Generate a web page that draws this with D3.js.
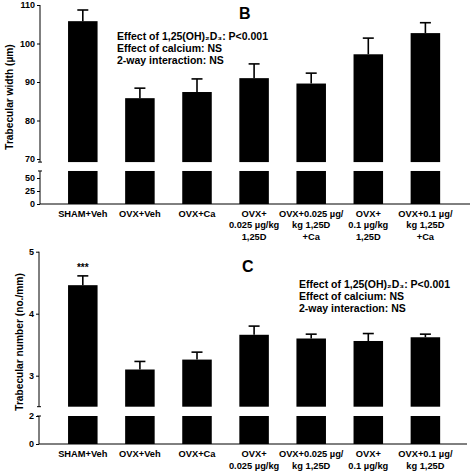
<!DOCTYPE html>
<html>
<head>
<meta charset="utf-8">
<script src="https://cdn.jsdelivr.net/npm/d3@7"></script>
<style>
  html, body { margin: 0; padding: 0; background: #fff; }
  svg { display: block; }
  text { font-family: "Liberation Sans", Arial, sans-serif; font-weight: bold; fill: #000; }
</style>
</head>
<body>
<svg id="chart" width="474" height="474"></svg>
<script>
// ---------- data ----------
const groups = ["SHAM+Veh", "OVX+Veh", "OVX+Ca", "OVX+0.025", "OVX+0.025+Ca", "OVX+0.1", "OVX+0.1+Ca"];
const labelsTop = [
  ["SHAM+Veh"], ["OVX+Veh"], ["OVX+Ca"],
  ["OVX+", "0.025 µg/kg", "1,25D"],
  ["OVX+0.025 µg/", "kg 1,25D", "+Ca"],
  ["OVX+", "0.1 µg/kg", "1,25D"],
  ["OVX+0.1 µg/", "kg 1,25D", "+Ca"]
];
const labelsBottom = [
  ["SHAM+Veh"], ["OVX+Veh"], ["OVX+Ca"],
  ["OVX+", "0.025 µg/kg"],
  ["OVX+0.025 µg/", "kg 1,25D"],
  ["OVX+", "0.1 µg/kg"],
  ["OVX+0.1 µg/", "kg 1,25D"]
];
// Panel B: trabecular width (µm)
const widthMean = [105.8, 85.8, 87.4, 91.0, 89.6, 97.2, 102.7];
const widthSEM  = [2.9, 2.6, 3.4, 3.7, 2.7, 4.2, 2.7];
const widthTicksUpper = [70, 80, 90, 100, 110];
const widthTicksLower = [0, 25, 50];
// Panel C: trabecular number (no./mm)
const numberMean = [4.46, 3.10, 3.26, 3.66, 3.60, 3.56, 3.62];
const numberSEM  = [0.15, 0.13, 0.12, 0.14, 0.07, 0.12, 0.05];
const numberTicksUpper = [3, 4, 5];
const numberTicksLower = [0, 2];
const statsText = ["Effect of 1,25(OH)₂D₃: P<0.001", "Effect of calcium: NS", "2-way interaction: NS"];

// ---------- drawing ----------
const svg = d3.select("#chart");
const x = d3.scaleBand().domain(groups).range([39.5, 468.7]).paddingInner(0.483).paddingOuter(0.5);

function panel(cfg) {
  const g = svg.append("g");
  const yU = d3.scaleLinear().domain(cfg.upperDomain).range(cfg.upperRange);
  const yL = d3.scaleLinear().domain(cfg.lowerDomain).range(cfg.lowerRange);
  const breakLow = cfg.breakLow, breakHigh = cfg.breakHigh;
  const ax = cfg.axisX;

  // bars
  g.selectAll("rect.up").data(cfg.mean).join("rect")
    .attr("x", (d, i) => x(groups[i])).attr("width", x.bandwidth())
    .attr("y", d => yU(d)).attr("height", d => yU(breakLow) - yU(d))
    .attr("fill", "#000");
  g.selectAll("rect.low").data(cfg.mean).join("rect")
    .attr("x", (d, i) => x(groups[i])).attr("width", x.bandwidth())
    .attr("y", yL(breakHigh)).attr("height", yL(0) - yL(breakHigh))
    .attr("fill", "#000");
  // error bars
  const eb = g.selectAll("g.eb").data(cfg.mean).join("g");
  eb.append("line")
    .attr("x1", (d, i) => x(groups[i]) + x.bandwidth() / 2)
    .attr("x2", (d, i) => x(groups[i]) + x.bandwidth() / 2)
    .attr("y1", d => yU(d)).attr("y2", (d, i) => yU(d + cfg.sem[i]))
    .attr("stroke", "#000").attr("stroke-width", 1.6);
  eb.append("line")
    .attr("x1", (d, i) => x(groups[i]) + x.bandwidth() / 2 - 5.5)
    .attr("x2", (d, i) => x(groups[i]) + x.bandwidth() / 2 + 5.5)
    .attr("y1", (d, i) => yU(d + cfg.sem[i])).attr("y2", (d, i) => yU(d + cfg.sem[i]))
    .attr("stroke", "#000").attr("stroke-width", 1.6);

  // y axis upper
  const axU = d3.axisLeft(yU).tickValues(cfg.ticksU).tickSize(3).tickPadding(2).tickFormat(d3.format("d"));
  const gU = g.append("g").attr("transform", `translate(${ax},0)`).call(axU);
  gU.select(".domain").remove();
  g.append("line").attr("x1", ax).attr("x2", ax).attr("y1", yU(cfg.upperDomain[1])).attr("y2", yU(breakLow)).attr("stroke", "#000");
  g.append("line").attr("x1", ax - 2).attr("x2", ax + 2).attr("y1", yU(breakLow)).attr("y2", yU(breakLow)).attr("stroke", "#000");
  // y axis lower
  const axL = d3.axisLeft(yL).tickValues(cfg.ticksL).tickSize(3).tickPadding(2).tickFormat(d3.format("d"));
  const gL = g.append("g").attr("transform", `translate(${ax},0)`).call(axL);
  gL.select(".domain").remove();
  g.append("line").attr("x1", ax).attr("x2", ax).attr("y1", yL(breakHigh)).attr("y2", yL(0)).attr("stroke", "#000");
  g.append("line").attr("x1", ax - 2).attr("x2", ax + 2).attr("y1", yL(breakHigh)).attr("y2", yL(breakHigh)).attr("stroke", "#000");
  [gU, gL].forEach(a => {
    a.selectAll("text").style("font-size", "9px").style("font-weight", "bold").style("font-family", '"Liberation Sans", Arial, sans-serif');
    a.selectAll("line").attr("stroke", "#000");
  });
  // x axis line
  g.append("line").attr("x1", ax).attr("x2", cfg.axisEnd).attr("y1", yL(0)).attr("y2", yL(0)).attr("stroke", "#000").attr("stroke-width", 1);

  // x labels
  cfg.labels.forEach((lines, i) => {
    const t = g.append("text").attr("text-anchor", "middle").style("font-size", "9.3px");
    lines.forEach((ln, k) => {
      t.append("tspan").attr("x", x(groups[i]) + x.bandwidth() / 2).attr("y", cfg.labelY + k * 11.8).text(ln);
    });
  });

  // y title
  g.append("text").attr("transform", `translate(${cfg.titleX},${cfg.titleY}) rotate(-90)`)
    .attr("text-anchor", "middle").style("font-size", "10.2px").text(cfg.title);

  // panel letter
  g.append("text").attr("x", cfg.letterX).attr("y", cfg.letterY).style("font-size", "16px").text(cfg.letter);

  // statistics text
  const st = g.append("text").style("font-size", "10.5px");
  statsText.forEach((s, k) => {
    st.append("tspan").attr("x", cfg.statX).attr("y", cfg.statY + k * 12).text(s);
  });
  return { g, yU };
}

panel({
  mean: widthMean, sem: widthSEM,
  upperDomain: [70, 110], upperRange: [159, 5],
  lowerDomain: [0, 50], lowerRange: [204, 178],
  breakLow: 69.2, breakHigh: 63.5,
  ticksU: widthTicksUpper, ticksL: widthTicksLower,
  axisX: 40, axisEnd: 470,
  labels: labelsTop, labelY: 216.5,
  title: "Trabecular width (µm)", titleX: 13, titleY: 97,
  letter: "B", letterX: 239, letterY: 19,
  statX: 117, statY: 40
});

const pc = panel({
  mean: numberMean, sem: numberSEM,
  upperDomain: [3, 5], upperRange: [375.7, 251.7],
  lowerDomain: [0, 2], lowerRange: [444, 416],
  breakLow: 2.5, breakHigh: 2,
  ticksU: numberTicksUpper, ticksL: numberTicksLower,
  axisX: 39, axisEnd: 467,
  labels: labelsBottom, labelY: 457,
  title: "Trabecular number (no./mm)", titleX: 23, titleY: 342,
  letter: "C", letterX: 242, letterY: 272,
  statX: 299, statY: 288
});

// significance marker
pc.g.append("text").attr("text-anchor", "middle")
  .attr("x", x(groups[0]) + x.bandwidth() / 2).attr("y", pc.yU(numberMean[0] + numberSEM[0]) - 5)
  .style("font-size", "10px").text("***");
</script>
</body>
</html>
